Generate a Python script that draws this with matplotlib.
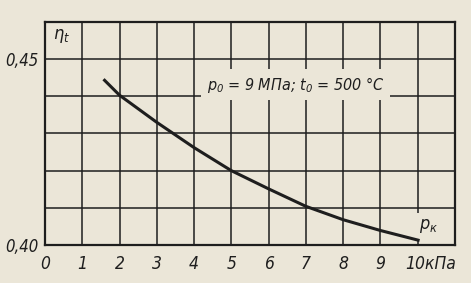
import matplotlib.pyplot as plt
from matplotlib.transforms import ScaledTranslation

# Thermal efficiency vs condenser pressure (scanned textbook figure)
pk = [1.57, 2, 3, 4, 5, 6, 7, 8, 9, 10.05]
eta = [0.4446, 0.4403, 0.4330, 0.4262, 0.4200, 0.4151, 0.4104, 0.4068, 0.4039, 0.4012]

x_ticks = list(range(0, 12))
x_labels = ['0', '1', '2', '3', '4', '5', '6', '7', '8', '9', '10кПа', '']
y_ticks = [0.40, 0.41, 0.42, 0.43, 0.44, 0.45]
y_labels = ['0,40', '', '', '', '', '0,45']

paper = '#ebe6d8'
ink = '#1e1e1e'

plt.rcParams['font.family'] = ['DejaVu Sans']
plt.rcParams['font.stretch'] = 'condensed'
plt.rcParams['mathtext.fontset'] = 'custom'
plt.rcParams['mathtext.it'] = 'DejaVu Sans:italic'
plt.rcParams['mathtext.rm'] = 'DejaVu Sans:italic'

fig = plt.figure(figsize=(4.71, 2.83), dpi=100, facecolor=paper)
ax = fig.add_axes([0.0955, 0.1343, 0.8705, 0.788], facecolor=paper)

ax.set_xlim(0, 11)
ax.set_ylim(0.40, 0.46)
ax.set_xticks(x_ticks)
ax.set_xticklabels(x_labels, fontsize=12.5, style='italic', color=ink)
ax.set_yticks(y_ticks)
ax.set_yticklabels(y_labels, fontsize=12, style='italic', color=ink)
ax.tick_params(length=0, pad=7)
ax.tick_params(axis='y', pad=5)

# last x label starts at the tick ("10" then units)
lab = ax.get_xticklabels()[10]
lab.set_horizontalalignment('left')
lab.set_transform(lab.get_transform() + ScaledTranslation(-12 / 100, 0, fig.dpi_scale_trans))

ax.grid(True, color=ink, linewidth=1.1, zorder=1)
for s in ax.spines.values():
    s.set_color(ink)
    s.set_linewidth(1.6)

ax.plot(pk, eta, color=ink, linewidth=2.2, solid_capstyle='butt', zorder=4)

box = dict(facecolor=paper, edgecolor='none', pad=4)
ax.text(6.72, 0.4431, r'$p_0$ = 9 МПа; $t_0$ = 500 °C', fontsize=11.5, style='italic',
        color=ink, ha='center', va='center', bbox=box, zorder=3)
ax.text(10.3, 0.4050, r'$p_к$', fontsize=13, color=ink, ha='center', va='center',
        bbox=dict(facecolor=paper, edgecolor='none', pad=3), zorder=3)
ax.text(0.22, 0.4562, r'$\eta_t$', fontsize=13, color=ink, ha='left', va='center', zorder=3)

fig.savefig('out.png', dpi=100, facecolor=paper)
